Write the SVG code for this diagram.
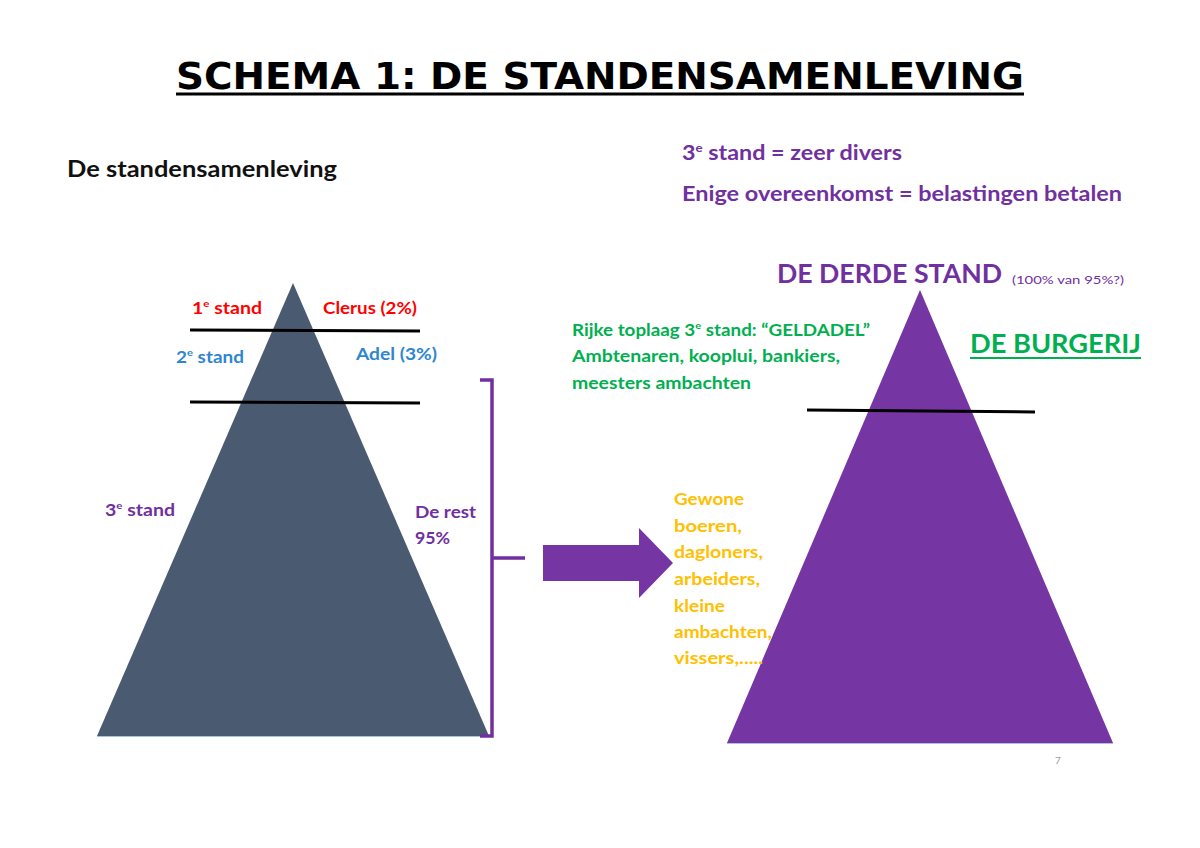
<svg xmlns="http://www.w3.org/2000/svg" width="1200" height="848" viewBox="0 0 1200 848">
<style>
.t{font-family:Lato,"Open Sans","Liberation Sans",sans-serif;font-weight:bold}
.red{fill:#FF0000}
.blue{fill:#2E86CE}
.pur{fill:#7030A0}
.grn{fill:#00B050}
.yel{fill:#FFC000;font-size:17px}
.sup{font-size:10px}
.hl{stroke:#000;stroke-width:3}
</style>
<rect width="1200" height="848" fill="#fff"/>
<g id="title">
<text x="176" y="89" font-family="DejaVu Sans,sans-serif" font-weight="bold" font-size="37" textLength="848" lengthAdjust="spacingAndGlyphs">SCHEMA 1: DE STANDENSAMENLEVING</text>
<line x1="176" y1="94" x2="1024" y2="94" stroke="#000" stroke-width="3"/>
</g>
<g id="subtitle">
<text class="t" x="67" y="177" font-size="23" textLength="270" lengthAdjust="spacingAndGlyphs" fill="#111">De standensamenleving</text>
</g>
<g id="left-pyramid">
<polygon points="293,283 97,736 489,736" fill="#4A5A70"/>
<line x1="97" y1="736.5" x2="489" y2="736.5" stroke="#A8C4DC" stroke-width="1.2"/>
<line class="hl" x1="190" y1="330" x2="420" y2="331"/>
<line class="hl" x1="190" y1="402" x2="420" y2="403"/>
</g>
<g id="labels-left">
<text class="t red" x="192" y="314" font-size="17" textLength="70" lengthAdjust="spacingAndGlyphs">1<tspan class="sup" dy="-7">e</tspan><tspan dy="7"> stand</tspan></text>
<text class="t red" x="323" y="314" font-size="17" textLength="94" lengthAdjust="spacingAndGlyphs">Clerus (2%)</text>
<text class="t blue" x="176" y="363" font-size="17" textLength="68" lengthAdjust="spacingAndGlyphs">2<tspan class="sup" dy="-7">e</tspan><tspan dy="7"> stand</tspan></text>
<text class="t blue" x="356" y="360" font-size="17" textLength="81" lengthAdjust="spacingAndGlyphs">Adel (3%)</text>
<text class="t pur" x="105" y="516" font-size="17" textLength="70" lengthAdjust="spacingAndGlyphs">3<tspan class="sup" dy="-7">e</tspan><tspan dy="7"> stand</tspan></text>
<text class="t pur" x="415" y="518" font-size="17" textLength="61" lengthAdjust="spacingAndGlyphs">De rest</text>
<text class="t pur" x="415" y="544" font-size="17" textLength="35" lengthAdjust="spacingAndGlyphs">95%</text>
</g>
<g id="connectors">
<path d="M480,380 H492 V736 H480 M492,558 H525" fill="none" stroke="#7030A0" stroke-width="3.5"/>
<polygon points="543,545 639,545 639,528 673,563 639,598 639,581 543,581" fill="#7535A2"/>
</g>
<g id="right-header">
<text class="t pur" x="682" y="160" font-size="21" textLength="220" lengthAdjust="spacingAndGlyphs">3<tspan font-size="12" dy="-8">e</tspan><tspan dy="8"> stand = zeer divers</tspan></text>
<text class="t pur" x="682" y="201" font-size="21" textLength="440" lengthAdjust="spacingAndGlyphs">Enige overeenkomst = belastingen betalen</text>
</g>
<g id="right-pyramid">
<polygon points="920,290 727,743 1113,743" fill="#7535A2"/>
<line x1="727" y1="743.5" x2="1113" y2="743.5" stroke="#A8C4DC" stroke-width="1.2"/>
<line class="hl" x1="807" y1="410" x2="1035" y2="412"/>
<text class="t pur" x="777" y="283" font-size="27" textLength="225" lengthAdjust="spacingAndGlyphs">DE DERDE STAND</text>
<text x="1012" y="284" font-family="Lato,sans-serif" font-size="12" fill="#7030A0" textLength="112" lengthAdjust="spacingAndGlyphs">(100% van 95%?)</text>
</g>
<g id="burgerij">
<text class="t grn" x="572" y="336" font-size="17" textLength="298" lengthAdjust="spacingAndGlyphs">Rijke toplaag 3<tspan class="sup" dy="-7">e</tspan><tspan dy="7"> stand: “GELDADEL”</tspan></text>
<text class="t grn" x="572" y="362" font-size="17" textLength="268" lengthAdjust="spacingAndGlyphs">Ambtenaren, kooplui, bankiers,</text>
<text class="t grn" x="572" y="389" font-size="17" textLength="179" lengthAdjust="spacingAndGlyphs">meesters ambachten</text>
<text class="t grn" x="970" y="353" font-size="27" textLength="171" lengthAdjust="spacingAndGlyphs">DE BURGERIJ</text>
<line x1="970" y1="358" x2="1141" y2="358" stroke="#00B050" stroke-width="2"/>
</g>
<g id="gewone">
<text class="t yel" x="674" y="505" textLength="70" lengthAdjust="spacingAndGlyphs">Gewone</text>
<text class="t yel" x="674" y="532" textLength="68" lengthAdjust="spacingAndGlyphs">boeren,</text>
<text class="t yel" x="674" y="558" textLength="89" lengthAdjust="spacingAndGlyphs">dagloners,</text>
<text class="t yel" x="674" y="585" textLength="86" lengthAdjust="spacingAndGlyphs">arbeiders,</text>
<text class="t yel" x="674" y="612" textLength="51" lengthAdjust="spacingAndGlyphs">kleine</text>
<text class="t yel" x="674" y="638" textLength="98" lengthAdjust="spacingAndGlyphs">ambachten,</text>
<text class="t yel" x="674" y="664" textLength="89" lengthAdjust="spacingAndGlyphs">vissers,.....</text>
</g>
<g id="page">
<text x="1055" y="764" font-family="Lato,sans-serif" font-size="10" fill="#999">7</text>
</g>
</svg>
